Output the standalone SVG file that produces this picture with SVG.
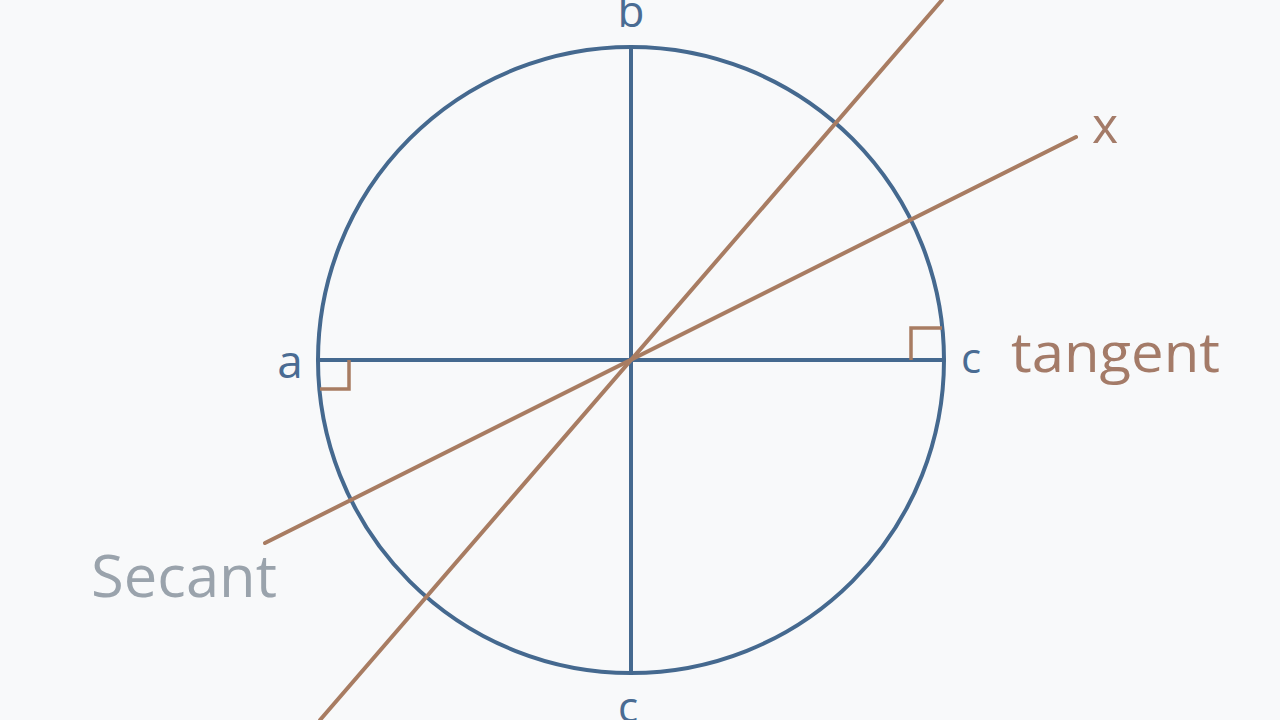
<svg xmlns="http://www.w3.org/2000/svg" width="1280" height="720" viewBox="0 0 1280 720">
<style>
.blue{fill:none;stroke:#45698f;stroke-width:4;stroke-linecap:round}
.brown{fill:none;stroke:#a87c62;stroke-width:4;stroke-linecap:round}
.mark{fill:none;stroke:#a87c62;stroke-width:3.5}
.lbl{font-family:"Open Sans","Noto Sans","DejaVu Sans",sans-serif;fill:#4a6c93}
.tan{font-family:"Open Sans","Noto Sans","DejaVu Sans",sans-serif;fill:#a47b68}
.sec{font-family:"Open Sans","Noto Sans","DejaVu Sans",sans-serif;fill:#9aa3ac}
</style>
<rect width="1280" height="720" fill="#f8f9fa"/>
<g id="circle"><circle class="blue" cx="631" cy="360" r="313"/></g>
<g id="connectors">
<line id="diam-v" class="blue" x1="631" y1="47" x2="631" y2="673"/>
<line id="diam-h" class="blue" x1="318" y1="360" x2="944" y2="360"/>
<line id="line1" class="brown" x1="320" y1="720" x2="942" y2="0"/>
<line id="line2" class="brown" x1="265" y1="543" x2="1076" y2="137"/>
<polyline id="right-left" class="mark" points="320,389 349,389 349,360"/>
<polyline id="right-right" class="mark" points="911,360 911,328 942,328"/>
</g>
<g id="label-b"><text class="lbl" x="631" y="27" font-size="44" text-anchor="middle">b</text></g>
<g id="label-a"><text class="lbl" x="290" y="378" font-size="46" text-anchor="middle">a</text></g>
<g id="label-c-right"><text class="lbl" x="971" y="373" font-size="42" text-anchor="middle">c</text></g>
<g id="label-c-bottom"><text class="lbl" x="628" y="722" font-size="42" text-anchor="middle">c</text></g>
<g id="label-x"><text class="tan" x="1105" y="143" font-size="50" text-anchor="middle">x</text></g>
<g id="label-tangent"><text class="tan" x="1011" y="372" font-size="54" textLength="209" lengthAdjust="spacingAndGlyphs">tangent</text></g>
<g id="label-secant"><text class="sec" x="91" y="597" font-size="58" textLength="186" lengthAdjust="spacingAndGlyphs">Secant</text></g>
</svg>
